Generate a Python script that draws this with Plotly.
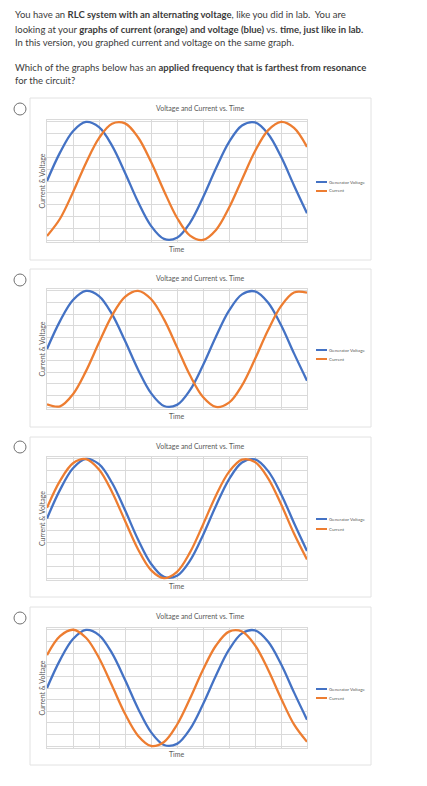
import plotly.graph_objects as go

W, H = 427, 786

# ---------------- data ----------------
time = [0, 0.5, 1, 1.5, 2, 2.5, 3, 3.5, 4, 4.5, 5, 5.5, 6, 6.5, 7, 7.5, 8, 8.5, 9, 9.5, 10]

voltage = [0, 0.479, 0.841, 0.997, 0.909, 0.598, 0.141, -0.351, -0.757, -0.978, -0.959,
           -0.706, -0.279, 0.215, 0.657, 0.938, 0.989, 0.798, 0.412, -0.075, -0.544]

current_1 = [-0.928, -0.637, -0.189, 0.305, 0.724, 0.966, 0.972, 0.739, 0.324, -0.167, -0.620,
             -0.922, -0.995, -0.826, -0.452, 0.027, 0.503, 0.855, 0.999, 0.898, 0.576]

current_2 = [-0.949, -0.984, -0.777, -0.380, 0.110, 0.573, 0.896, 0.999, 0.858, 0.508, 0.032,
             -0.452, -0.824, -0.995, -0.921, -0.625, -0.172, 0.321, 0.736, 0.970, 0.967]

current_3 = [0.179, 0.629, 0.925, 0.994, 0.820, 0.445, -0.038, -0.514, -0.864, -0.999, -0.893,
             -0.568, -0.103, 0.387, 0.781, 0.985, 0.947, 0.678, 0.242, -0.253, -0.687]

current_4 = [0.565, 0.891, 1.000, 0.863, 0.516, 0.042, -0.443, -0.818, -0.994, -0.926, -0.631,
             -0.182, 0.312, 0.729, 0.968, 0.970, 0.734, 0.319, -0.174, -0.625, -0.924]

currents = [current_1, current_2, current_3, current_4]

chart_title = "Voltage and Current vs. Time"
x_title = "Time"
y_title = "Current & Voltage"
legend_names = ["Generator Voltage", "Current"]

question_lines = [
    "You have an <b>RLC system with an alternating voltage</b>, like you did in lab.  You are",
    "looking at your <b>graphs of current (orange) and voltage (blue)</b> vs. <b>time, just like in lab.</b>",
    "In this version, you graphed current and voltage on the same graph.",
    "Which of the graphs below has an <b>applied frequency that is farthest from resonance</b>",
    "for the circuit?",
]

# ---------------- layout helpers ----------------
def px(x):
    return x / W


def py(y):
    return 1 - y / H


BLUE = "#4472C4"
ORANGE = "#ED7D31"
GRID = "#dadada"

# per chart: (box top, box bottom, plot top, plot bottom, title y, time y, legend y1, legend y2, radio y)
charts = [
    (98, 260, 120, 242, 108, 249, 182, 191, 109),
    (269, 427, 289, 409, 278, 416, 350, 359, 280),
    (437, 597, 457, 580, 446, 586, 519, 529, 447),
    (607, 765, 628, 748, 616, 754, 689, 698, 618),
]
PLOT_L, PLOT_R = 47, 307
BOX_L, BOX_R = 30, 371

fig = go.Figure()
layout = dict(
    width=W, height=H,
    margin=dict(l=0, r=0, t=0, b=0),
    paper_bgcolor="white", plot_bgcolor="white",
    showlegend=False,
    font=dict(family="Lato", color="#444"),
)
shapes = []
annotations = []

for i, (bt, bb, pt, pb, ty, tiy, ly1, ly2, ry) in enumerate(charts):
    n = "" if i == 0 else str(i + 1)
    xa, ya = "x" + n, "y" + n
    fig.add_trace(go.Scatter(x=time, y=voltage, mode="lines", name=legend_names[0],
                             line=dict(color=BLUE, width=2.3, shape="spline", smoothing=1.0),
                             xaxis=xa, yaxis=ya))
    fig.add_trace(go.Scatter(x=time, y=currents[i], mode="lines", name=legend_names[1],
                             line=dict(color=ORANGE, width=2.3, shape="spline", smoothing=1.0),
                             xaxis=xa, yaxis=ya))
    layout["xaxis" + n] = dict(
        domain=[px(PLOT_L), px(PLOT_R)], range=[0, 10], dtick=1, tick0=0,
        showticklabels=False, ticks="", showgrid=True, gridcolor=GRID, gridwidth=0.8,
        zeroline=False, showline=True, linecolor=GRID, linewidth=0.8, mirror=True,
        anchor=ya, fixedrange=True,
    )
    layout["yaxis" + n] = dict(
        domain=[py(pb), py(pt)], range=[-1.03, 1.03], dtick=0.2, tick0=-1,
        showticklabels=False, ticks="", showgrid=True, gridcolor=GRID, gridwidth=0.8,
        zeroline=False, showline=True, linecolor=GRID, linewidth=0.8, mirror=True,
        anchor=xa, fixedrange=True,
    )
    # chart frame
    shapes.append(dict(type="rect", xref="paper", yref="paper",
                       x0=px(BOX_L), x1=px(BOX_R), y0=py(bb), y1=py(bt),
                       line=dict(color="#e2e2e2", width=1), layer="below"))
    # radio button
    shapes.append(dict(type="circle", xref="paper", yref="paper",
                       x0=px(14), x1=px(26), y0=py(ry + 6), y1=py(ry - 6),
                       line=dict(color="#707070", width=1), fillcolor="white"))
    # legend samples (filled bars)
    for ly, col in ((ly1, BLUE), (ly2, ORANGE)):
        shapes.append(dict(type="rect", xref="paper", yref="paper",
                           x0=px(316), x1=px(327), y0=py(ly + 1), y1=py(ly - 1),
                           line=dict(width=0), fillcolor=col))
    annotations.append(dict(text=legend_names[0], xref="paper", yref="paper",
                            x=px(327), y=py(ly1), xanchor="left", yanchor="middle",
                            showarrow=False, font=dict(size=4.5, color="#595959", family="Lato")))
    annotations.append(dict(text=legend_names[1], xref="paper", yref="paper",
                            x=px(327), y=py(ly2), xanchor="left", yanchor="middle",
                            showarrow=False, font=dict(size=4.5, color="#595959", family="Lato")))
    # titles
    annotations.append(dict(text=chart_title, xref="paper", yref="paper",
                            x=px(200), y=py(ty), xanchor="center", yanchor="middle",
                            showarrow=False, font=dict(size=7, color="#595959", family="Lato")))
    annotations.append(dict(text=x_title, xref="paper", yref="paper",
                            x=px(177), y=py(tiy), xanchor="center", yanchor="middle",
                            showarrow=False, font=dict(size=7, color="#595959", family="Lato")))
    annotations.append(dict(text=y_title, xref="paper", yref="paper",
                            x=px(41.5), y=py((pt + pb) / 2), xanchor="center", yanchor="middle",
                            textangle=-90, showarrow=False,
                            font=dict(size=7, color="#595959", family="Lato")))

# question text
line_y = [15, 30, 43, 67, 80]
for txt, yy in zip(question_lines, line_y):
    annotations.append(dict(text=txt, xref="paper", yref="paper",
                            x=px(13), y=py(yy), xanchor="left", yanchor="middle",
                            showarrow=False, font=dict(size=9.5, color="#3b3b3b", family="Lato")))

layout["shapes"] = shapes
layout["annotations"] = annotations
fig.update_layout(**layout)
fig.write_html(
    "out.html",
    config={"displayModeBar": False},
    post_script="document.body.style.margin='0';document.body.style.overflow='hidden';",
)
